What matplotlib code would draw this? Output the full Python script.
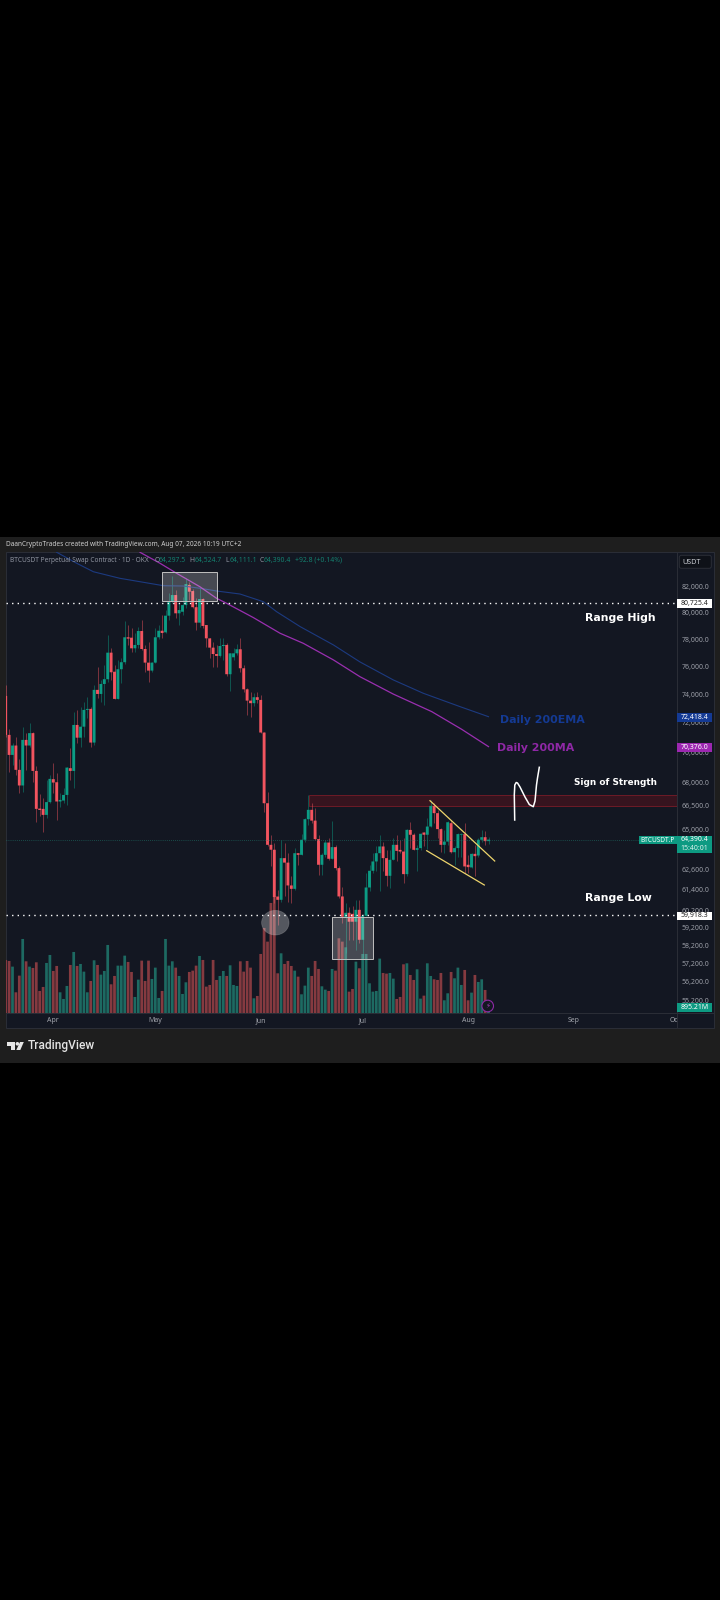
import matplotlib
matplotlib.use("Agg")
import matplotlib.pyplot as plt
from matplotlib.patches import Rectangle, Ellipse, Circle, Polygon, FancyBboxPatch
from matplotlib.ticker import NullLocator, NullFormatter, FixedLocator, FixedFormatter
from matplotlib.transforms import Bbox

plt.rcParams['font.family'] = ['Noto Sans', 'DejaVu Sans']

opens = [73870,71170,69820,70450,68830,67810,70830,70450,71290,68760,66330,66310,65930,66740,68220,68020,66780,66840,67200,68940,
68760,71850,70980,71730,72890,72960,70650,74300,74010,74720,75060,76990,75600,73660,75780,76290,78130,78100,77310,77560,
78600,77260,76260,75680,76260,78130,78620,78500,79760,80830,81350,79940,80060,80570,82140,81660,80410,79230,81040,79050,
78050,77360,76890,76750,77480,77560,75420,76650,76940,77240,75850,74340,73540,73360,73780,73590,71330,66670,64070,63770,
60980,60790,63260,62990,61630,61430,63560,63460,64380,65660,66250,65570,64420,62860,63460,64210,63220,63930,62660,60985,
59750,60040,59980,59530,60210,58510,59870,61510,62500,63060,63560,63970,63260,62200,63160,64070,63760,63660,62300,64990,
64690,63760,63870,64830,64690,65200,66500,66040,65040,64070,64270,65410,63620,63870,64690,64730,62860,62700,63520,63420,
64380,64540,64297.5]
highs = [74650,71560,70610,71050,69540,71730,71330,71970,71390,69090,67270,67030,68175,68500,69270,68610,67310,67640,69050,70270,
72770,72890,73080,73470,73820,73120,74650,75970,75010,76090,78300,77310,76090,76450,76580,79380,79050,78800,78430,78930,
79430,77560,77800,76270,78800,79050,79810,80190,81500,82860,81740,80700,81220,82690,82390,81800,81100,81870,81100,79060,
78100,77800,77560,78050,78050,77680,77000,77310,77630,78050,76090,74420,74170,74100,74170,73940,71400,67420,64690,64170,
61370,64380,64170,63560,62160,63870,63600,64750,65730,67200,66670,66360,64690,63560,64380,64480,65570,64070,62760,61550,
60620,60380,60440,60790,60790,59980,62360,62860,63560,63970,64690,64270,63760,63760,64480,64690,64380,64480,65040,65510,
64790,64070,64790,64890,65730,66885,66670,66250,65100,64995,65560,65620,63970,64790,64790,65410,63460,63560,64070,64480,
64995,64950,64524.7]
lows = [71050,68720,69160,68500,67310,67420,68830,70380,68060,65510,65870,64890,65730,66680,67310,65620,66460,66680,66570,68170,
67640,70610,70380,71050,72310,70380,70490,73710,73470,73240,74890,75010,73650,73650,74770,76140,77560,77060,77060,77310,
77190,75610,74890,75610,76210,77980,78050,78430,79430,80700,79560,79050,79810,80330,80960,80330,78680,78930,78800,77430,
76580,75970,75970,76650,76450,75300,74220,76450,76820,75610,74170,72540,72420,73170,73360,71280,66140,63970,62760,60600,
59360,60690,61000,60690,60600,61370,62860,63420,64270,65310,65410,64380,62260,62260,63350,63160,63200,62560,60890,59470,
57790,58510,58510,57950,58340,57500,59830,61280,62360,62460,61280,62460,61570,61480,63120,63060,63560,61770,62200,63870,
63730,62460,63760,63970,63800,65160,65410,64480,63660,63560,64070,63560,62860,63350,63350,62360,62360,62660,62160,63350,
64270,64070,64111.1]
closes = [71170,69820,70450,68830,67810,70830,70450,71290,68760,66310,66240,65930,66740,68240,68000,66780,66880,67200,68980,68760,
71850,70980,71730,72890,72960,70650,74300,74010,74720,75060,76990,75560,73660,75780,76290,78130,78030,77310,77560,78600,
77260,76260,75680,76260,78130,78620,78450,79760,80830,81350,79940,80190,80570,82200,81610,80410,79230,81040,78980,78050,
77360,76890,76750,77480,77560,75420,76940,76940,77240,75850,74340,73540,73360,73780,73590,71330,66670,64070,63770,60950,
60790,63260,62990,61630,61430,63560,63460,64380,65660,66250,65570,64420,62860,63460,64210,63220,63930,62660,60985,59810,
60040,59530,59530,60210,58510,59870,61510,62500,63060,63560,63970,63260,62200,63160,64070,63700,63660,62300,64995,64690,
63765,63870,64750,64690,65200,66500,66040,65040,64070,64270,65470,63620,63870,64730,64730,62760,62720,63520,63380,64380,
64540,64297.5,64390.4]
volumes = [8000,7850,7000,3150,5650,11150,7800,7000,6800,7650,3350,3950,7550,8750,6350,7100,3150,2150,4100,7250,
9200,7100,7400,6250,3150,4850,7950,7250,5800,6350,10250,4350,5600,7150,7150,8650,7700,6200,2450,5050,
7900,4850,7900,5150,6850,2300,3350,11150,7150,7800,6850,5600,2900,4650,6200,6400,7150,8600,8000,4000,
4250,8000,5000,5600,6350,5600,7200,4250,4100,7800,6250,7850,6850,2250,2600,8900,12800,10750,16550,17500,
6000,9000,7400,7850,7100,6400,5500,2850,4150,6850,5600,7850,6650,4050,3550,3350,6650,6400,11250,10750,
9900,3250,3650,7750,6750,8900,8900,4500,3250,3350,8200,6050,5950,6050,5200,2150,2450,7350,7500,5750,
5000,6600,2200,2650,7500,5600,5100,5000,6050,1950,3000,6200,5250,6850,4250,6500,1950,3100,5750,4700,
5100,3500,895.21]

ema_days = [15,20.9,25.8,33.6,39.5,46.4,52.2,57.2,62,68.9,75.8,79.7,86.6,96.4,104.2,114,122.8,133.6,142]
ema_vals = [84742,83855,83181,82660,82392,82078,82055,81875,81665,81430,80830,80060,78930,77558,76310,75008,74060,73120,72418.4]
ma_days = [39.5,45.4,50.3,57.1,62,65,72.8,80.7,87.5,96.4,104.2,114,125.3,134.1,142]
ma_vals = [84742,83855,83053,82000,81098,80705,79620,78430,77684,76455,75240,74001,72771,71552,70376]

y_ticks = [82000,80000,78000,76000,74000,72000,70000,68000,66500,65000,62600,61400,60200,59200,58200,57200,56200,55200]
month_days = [14,44,75,105,136,167,197]
month_names = ['Apr','May','Jun','Jul','Aug','Sep','Oct']

range_high = 80725.4
range_low = 59918.3
last_price = 64390.4

W, H = 720, 1600
L, R, T, B = 6.0, 676.7, 552.0, 1013.3
UP, DOWN = '#0c9c84', '#f2545f'
UPV, DOWNV = '#1d6a62', '#853a40'
PANEL = '#131722'
GRID = '#2b2e37'
FRAME = '#1e1e1e'
BLUE = '#143a94'
PURPLE = '#9c27b0'

fig = plt.figure(figsize=(W/100, H/100), dpi=100, facecolor='black')
pos = [L/W, 1-B/H, (R-L)/W, (B-T)/H]

bg = fig.add_axes([0, 0, 1, 1], zorder=0)
bg.set_xlim(0, W); bg.set_ylim(H, 0); bg.axis('off')
bg.add_patch(Rectangle((0, 537), W, 526, fc=FRAME, ec='none'))
bg.add_patch(Rectangle((L, T), 714-L, 1028-T, fc=PANEL, ec=GRID, lw=0.7))
bg.plot([R, R], [T, 1028], color=GRID, lw=0.7)
bg.plot([L, 714], [B, B], color=GRID, lw=0.7)

vx = fig.add_axes(pos, zorder=1)
vx.axis('off')
days = list(range(len(closes)))
vx.bar(days, volumes, width=0.8, color=[UPV if c >= o else DOWNV for o, c in zip(opens, closes)],
       linewidth=0, snap=False)
vx.set_xlim(0.088, 197.35)
vx.set_ylim(0, 69195)

ax = fig.add_axes(pos, zorder=2)
ax.patch.set_alpha(0)
ax.set_yscale('log')
for s in ax.spines.values():
    s.set_visible(False)
cols = [UP if c >= o else DOWN for o, c in zip(opens, closes)]
ax.axhspan(66480, 67205, xmin=(89.3-0.088)/(197.35-0.088), xmax=1, fc='#36141f', ec='#7a1c28', lw=0.6)
ax.vlines(days, lows, highs, colors=cols, lw=0.6, alpha=0.55)
ax.bar(days, [abs(c-o) for o, c in zip(opens, closes)], bottom=[min(o, c) for o, c in zip(opens, closes)],
       width=0.85, color=cols, linewidth=0, snap=False)
ax.plot(ema_days, ema_vals, color='#1c3a80', lw=0.8)
ax.plot(ma_days, ma_vals, color='#9a2fb0', lw=0.9)
ax.axhline(last_price, color='#1f7a6c', lw=0.5, ls=(0, (1, 2)))
ax.axhline(range_high, color='white', lw=1.0, ls=(0, (1, 3)))
ax.axhline(range_low, color='white', lw=1.0, ls=(0, (1, 3)))
ax.set_xlim(0.088, 197.35)
ax.set_ylim(54540, 84766)
ax.yaxis.tick_right()
ax.yaxis.set_major_locator(FixedLocator(y_ticks))
ax.yaxis.set_major_formatter(FixedFormatter([f'{v:,.1f}' for v in y_ticks]))
ax.yaxis.set_minor_locator(NullLocator())
ax.yaxis.set_minor_formatter(NullFormatter())
ax.tick_params(axis='y', length=0, pad=3.6, labelsize=5.0, labelcolor='#9a9da6')
ax.set_xticks(month_days, month_names)
ax.tick_params(axis='x', length=0, pad=2.5, labelsize=5.0, labelcolor='#a0a3ab')
fig.canvas.draw()
for lab in ax.get_xticklabels():
    lab.set_clip_box(Bbox([[0, 0], [R, H]]))
    lab.set_clip_on(True)

ov = fig.add_axes([0, 0, 1, 1], zorder=5)
ov.set_xlim(0, W); ov.set_ylim(H, 0); ov.axis('off'); ov.patch.set_alpha(0)

def txt(x, y, s, color='white', size=5.0, ha='left', weight='normal', **kw):
    ov.text(x, y, s, color=color, fontsize=size, ha=ha, va='center', fontweight=weight, **kw)

def box(y0, y1, fc, s, tc='white'):
    ov.add_patch(Rectangle((R, y0), 35, y1-y0, fc=fc, ec='none'))
    txt(694.5, (y0+y1)/2, s, color=tc, size=5.0, ha='center')

ov.add_patch(Rectangle((162.3, 572.3), 54.4, 29, fc='white', alpha=0.22, ec='none'))
ov.add_patch(Rectangle((162.3, 572.3), 54.4, 29, fc='none', ec='#c0c0c0', lw=0.7))
ov.add_patch(Rectangle((331.7, 916.7), 41, 42.3, fc='white', alpha=0.22, ec='none'))
ov.add_patch(Rectangle((331.7, 916.7), 41, 42.3, fc='none', ec='#c0c0c0', lw=0.7))
ov.add_patch(Ellipse((275.3, 922.7), 27.4, 24.6, fc='white', alpha=0.28, ec='#bbbbbb', lw=0.6))

ov.plot([430, 494.7], [800.7, 861], color='#eed56c', lw=0.9)
ov.plot([426.7, 484.3], [850.7, 885], color='#eed56c', lw=0.9)
ov.plot([514.7, 514.3, 514.8, 516.2, 517.5, 520, 525, 529.3, 533.3, 535, 536.5, 537.5, 539.3],
        [820, 795, 785, 782.5, 783, 787, 797, 804.5, 806.7, 801, 785, 778, 767.3], color='white', lw=1.1)

txt(6, 545, 'DaanCryptoTrades created with TradingView.com, Aug 07, 2026 10:19 UTC+2', color='#cfcfcf', size=4.7)
txt(10, 560.3, 'BTCUSDT Perpetual Swap Contract · 1D · OKX', color='#8f94a0', size=4.75)
for x, s in [(154.3, 'O'), (189.3, 'H'), (225, 'L'), (259.3, 'C')]:
    txt(x, 560.3, s, color='#8f94a0', size=4.9)
for x, s in [(159, '64,297.5'), (194.3, '64,524.7'), (229.3, '64,111.1'), (264, '64,390.4'), (295, '+92.8 (+0.14%)')]:
    txt(x, 560.3, s, color='#14806f', size=4.9)

txt(585, 617.7, 'Range High', size=7.8, weight='bold', family='DejaVu Sans')
txt(585, 898.3, 'Range Low', size=7.8, weight='bold', family='DejaVu Sans')
txt(573.7, 782.3, 'Sign of Strength', size=6.4, weight='bold', family='DejaVu Sans')
txt(500, 720, 'Daily 200EMA', color=BLUE, size=7.9, weight='bold', family='DejaVu Sans')
txt(496.7, 748.3, 'Daily 200MA', color='#8f28a6', size=7.9, weight='bold', family='DejaVu Sans')

ov.add_patch(FancyBboxPatch((679.3, 555.3), 32, 13, boxstyle='round,pad=0,rounding_size=2', fc='#0e1118', ec=GRID, lw=0.7))
txt(691.7, 562, 'USDT', color='#c9ccd2', size=5.2, ha='center')
box(599.3, 608.3, 'white', '80,725.4', '#222222')
box(713.3, 722.3, BLUE, '72,418.4')
box(743.3, 752.3, PURPLE, '70,376.0')
box(911.7, 920, 'white', '59,918.3', '#222222')
box(1002.7, 1011.7, '#0d9a82', '895.21M')
ov.add_patch(Rectangle((R, 836), 35, 16.7, fc='#0d9a82', ec='none'))
txt(694.5, 839.9, '64,390.4', size=5.0, ha='center')
txt(694.5, 848, '15:40:01', size=5.0, ha='center', alpha=0.85)
ov.add_patch(Rectangle((638.7, 836), R-638.7, 8.3, fc='#0d9a82', ec='none'))
txt(657.5, 840.1, 'BTCUSDT.P', size=4.7, ha='center')

ov.add_patch(Circle((487.7, 1006), 5.8, fc=PANEL, ec='#8e2aa6', lw=0.8))
txt(487.7, 1006, '⚡', color='#a23bb8', size=5.0, ha='center')

ov.add_patch(Polygon([(7, 1042), (15.3, 1042), (15.3, 1050), (11, 1050), (11, 1045.5), (7, 1045.5)], fc='#e6e6e6', ec='none'))
ov.add_patch(Circle((17.4, 1043.8), 1.8, fc='#e6e6e6', ec='none'))
ov.add_patch(Polygon([(20, 1042), (23.8, 1042), (20.3, 1050), (16.3, 1050)], fc='#e6e6e6', ec='none'))
txt(28, 1046, 'TradingView', color='#e4e4e4', size=8.6, weight='medium', family='Roboto')

fig.savefig('out.png', dpi=100, facecolor='black')
